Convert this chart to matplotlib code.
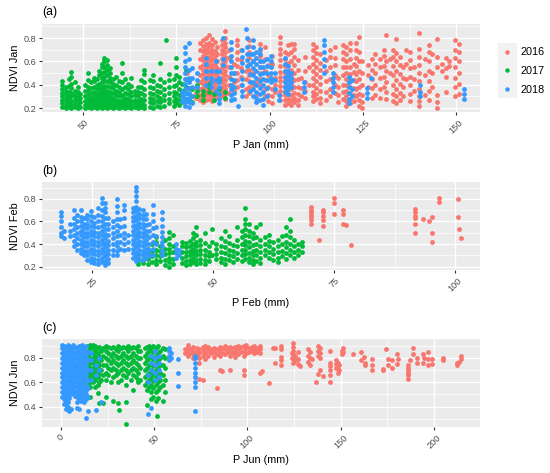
import matplotlib
matplotlib.use('Agg')
import matplotlib.pyplot as plt
from matplotlib.lines import Line2D
from matplotlib.patches import Rectangle

plt.rcParams['font.family'] = ['Liberation Sans', 'DejaVu Sans']

years = ['2016', '2017', '2018']
colors = ['#F8766D', '#00BA38', '#3399FF']

# ---------------- Panel (a): P Jan vs NDVI Jan ----------------
jan16_x = [77.8, 80.3, 81.3, 82.0, 82.8, 83.6, 84.4, 85.2, 86.0, 87.3, 88.1, 89.0, 90.4, 91.3, 92.2,
           93.5, 94.5, 95.4, 96.6, 97.5, 98.6, 99.6, 100.6, 101.5, 102.7, 104.0, 104.8, 105.7, 106.6,
           107.5, 108.4, 109.5, 110.5, 111.6, 112.4, 113.4, 115.0, 116.2, 117.4, 118.2, 119.7, 120.5,
           121.4, 122.5, 123.2, 124.0, 124.8, 126.2, 127.5, 128.3, 129.5, 130.5, 131.2, 132.3, 133.0,
           133.9, 134.8, 135.7, 136.5, 137.5, 138.5, 140.0, 141.5, 142.6, 143.5, 144.8, 146.2, 147.3,
           148.1, 149.7, 150.8]
jan16_y = [[0.37, 0.50], [0.29, 0.33, 0.38],
           [0.27, 0.31, 0.36, 0.42, 0.48, 0.55, 0.62, 0.70, 0.76],
           [0.25, 0.29, 0.33, 0.37, 0.41, 0.45, 0.49, 0.53, 0.57, 0.61, 0.65, 0.69, 0.73, 0.78],
           [0.27, 0.31, 0.35, 0.39, 0.43, 0.47, 0.51, 0.55, 0.59, 0.63, 0.67, 0.71, 0.75, 0.80],
           [0.28, 0.32, 0.36, 0.40, 0.44, 0.48, 0.52, 0.56, 0.60, 0.64, 0.68, 0.72, 0.76, 0.83],
           [0.26, 0.30, 0.34, 0.38, 0.42, 0.46, 0.50, 0.54, 0.58, 0.62, 0.66, 0.70, 0.74, 0.79],
           [0.29, 0.33, 0.37, 0.41, 0.45, 0.49, 0.53, 0.57, 0.61, 0.65, 0.69, 0.77],
           [0.31, 0.36, 0.42, 0.48, 0.54, 0.60, 0.66, 0.72],
           [0.30, 0.34, 0.38, 0.42, 0.46, 0.50, 0.54, 0.58, 0.62, 0.66, 0.70, 0.74, 0.78],
           [0.28, 0.32, 0.36, 0.40, 0.44, 0.48, 0.52, 0.56, 0.60, 0.64, 0.68, 0.72, 0.76, 0.80, 0.86],
           [0.33, 0.40, 0.47, 0.55, 0.63, 0.70], [0.35, 0.42, 0.50, 0.58],
           [0.38, 0.44, 0.50, 0.56, 0.62, 0.68, 0.74, 0.78], [0.40, 0.47, 0.54, 0.61, 0.70],
           [0.30, 0.36, 0.45, 0.52],
           [0.33, 0.38, 0.43, 0.48, 0.53, 0.58, 0.63, 0.68, 0.73, 0.78], [0.40, 0.50, 0.60],
           [0.26, 0.32, 0.43], [0.40, 0.45, 0.50, 0.55, 0.60, 0.65, 0.70, 0.75],
           [0.30, 0.36, 0.44, 0.52, 0.62, 0.72], [0.26, 0.31, 0.38, 0.48, 0.57],
           [0.24, 0.30, 0.36, 0.45, 0.58, 0.65], [0.34, 0.40, 0.46],
           [0.27, 0.31, 0.35, 0.39, 0.43, 0.47, 0.51, 0.56, 0.61, 0.66, 0.71, 0.76, 0.81],
           [0.23, 0.27, 0.31, 0.35, 0.39, 0.44, 0.50, 0.56, 0.62, 0.68],
           [0.24, 0.28, 0.32, 0.36, 0.40, 0.45, 0.52, 0.59, 0.66, 0.74],
           [0.23, 0.27, 0.31, 0.36, 0.41, 0.47, 0.53, 0.60, 0.68, 0.75],
           [0.25, 0.29, 0.33, 0.38, 0.44, 0.50, 0.57, 0.64, 0.71, 0.75],
           [0.23, 0.27, 0.32, 0.38, 0.45, 0.53, 0.61], [0.30, 0.37, 0.46],
           [0.29, 0.35, 0.42, 0.52, 0.64], [0.40, 0.55],
           [0.26, 0.30, 0.34, 0.40, 0.46, 0.52, 0.58, 0.64, 0.70, 0.75],
           [0.28, 0.32, 0.37, 0.43, 0.49, 0.55, 0.61, 0.67, 0.72],
           [0.24, 0.29, 0.35, 0.41, 0.47, 0.53, 0.59, 0.66],
           [0.27, 0.34, 0.43, 0.52, 0.61], [0.30, 0.36, 0.45, 0.55, 0.64, 0.70],
           [0.33, 0.40, 0.48, 0.57, 0.63, 0.72], [0.25, 0.31, 0.38, 0.46],
           [0.28, 0.34, 0.40, 0.48, 0.55, 0.62, 0.68, 0.74],
           [0.22, 0.26, 0.30, 0.35, 0.40, 0.45, 0.50, 0.55, 0.60, 0.66, 0.72],
           [0.24, 0.28, 0.33, 0.38, 0.43, 0.49, 0.55, 0.62, 0.70, 0.76],
           [0.26, 0.31, 0.37, 0.44, 0.51, 0.58],
           [0.30, 0.36, 0.43, 0.49, 0.56, 0.63, 0.70, 0.76],
           [0.22, 0.27, 0.32, 0.38, 0.45, 0.52, 0.60, 0.68, 0.81],
           [0.20, 0.25, 0.31, 0.40, 0.50, 0.60], [0.38, 0.48, 0.57],
           [0.29, 0.37, 0.45, 0.53, 0.62], [0.31, 0.40, 0.50, 0.58, 0.66],
           [0.29, 0.36, 0.46, 0.55, 0.62], [0.38, 0.47, 0.56, 0.65, 0.70],
           [0.28, 0.34, 0.42, 0.52, 0.60, 0.83], [0.50, 0.62],
           [0.26, 0.32, 0.40, 0.48, 0.56, 0.64, 0.70],
           [0.24, 0.30, 0.36, 0.44, 0.52, 0.60, 0.67, 0.79],
           [0.27, 0.33, 0.41, 0.49, 0.57, 0.64], [0.30, 0.38, 0.46, 0.55],
           [0.45, 0.58, 0.70], [0.26, 0.32, 0.40, 0.47, 0.54, 0.61, 0.68], [0.35, 0.45, 0.55],
           [0.22, 0.26, 0.30, 0.36, 0.43, 0.50, 0.57, 0.64, 0.71, 0.84], [0.31, 0.48, 0.62],
           [0.27, 0.35, 0.43, 0.52, 0.60, 0.68, 0.74], [0.38, 0.50, 0.66],
           [0.20, 0.25, 0.31, 0.55, 0.64, 0.79], [0.52, 0.58], [0.34, 0.47, 0.54, 0.63],
           [0.56, 0.60], [0.30, 0.38, 0.46, 0.55, 0.63, 0.70, 0.78],
           [0.32, 0.41, 0.50, 0.60, 0.68, 0.75]]

jan17_x = [44.3, 45.3, 46.2, 46.9, 47.8, 48.6, 49.3, 50.5, 51.2, 52.0, 52.8, 53.6, 54.3, 55.0, 55.7,
           56.4, 57.2, 58.0, 58.8, 59.6, 60.5, 61.3, 62.1, 62.9, 63.8, 64.6, 65.5, 66.4, 67.8, 68.7,
           69.9, 70.7, 71.6, 72.3, 73.0, 74.3, 75.0, 75.8, 76.6, 77.5, 78.3, 79.2, 80.5, 82.0, 83.8,
           85.0, 86.4, 88.0]
jan17_y = [[0.21, 0.24, 0.27, 0.30, 0.33, 0.36, 0.40, 0.43],
           [0.20, 0.23, 0.26, 0.29, 0.32, 0.35, 0.38],
           [0.21, 0.24, 0.27, 0.30, 0.34, 0.39, 0.45],
           [0.20, 0.23, 0.26, 0.30, 0.33, 0.37, 0.41, 0.47, 0.51],
           [0.21, 0.24, 0.28, 0.31, 0.35, 0.42],
           [0.20, 0.23, 0.27, 0.30, 0.34, 0.38],
           [0.21, 0.25, 0.29, 0.32],
           [0.20, 0.23, 0.26, 0.30, 0.35, 0.40],
           [0.21, 0.24, 0.28, 0.31, 0.35, 0.38, 0.44, 0.50],
           [0.20, 0.23, 0.26, 0.29, 0.33, 0.37, 0.42],
           [0.21, 0.24, 0.27, 0.30, 0.34, 0.38, 0.43, 0.46],
           [0.20, 0.23, 0.26, 0.29, 0.32, 0.36, 0.40, 0.45],
           [0.21, 0.24, 0.27, 0.30, 0.33, 0.37, 0.41, 0.48, 0.52],
           [0.20, 0.23, 0.26, 0.29, 0.32, 0.35, 0.38, 0.42, 0.46, 0.50, 0.55, 0.58],
           [0.21, 0.24, 0.27, 0.30, 0.33, 0.36, 0.39, 0.43, 0.47, 0.51, 0.55, 0.60, 0.63],
           [0.20, 0.23, 0.26, 0.29, 0.32, 0.35, 0.39, 0.43, 0.48, 0.53, 0.57, 0.61],
           [0.21, 0.24, 0.27, 0.30, 0.34, 0.38, 0.42, 0.46, 0.50, 0.54],
           [0.20, 0.23, 0.26, 0.29, 0.33, 0.37, 0.41, 0.45],
           [0.21, 0.24, 0.27, 0.31, 0.35, 0.40, 0.47],
           [0.20, 0.23, 0.26, 0.30, 0.34, 0.38, 0.43],
           [0.21, 0.24, 0.27, 0.31, 0.36, 0.42, 0.50, 0.59],
           [0.20, 0.23, 0.26, 0.29, 0.33, 0.38, 0.45],
           [0.21, 0.24, 0.28, 0.32, 0.36, 0.41],
           [0.20, 0.23, 0.26, 0.30, 0.34, 0.39, 0.46],
           [0.21, 0.24, 0.27, 0.31, 0.35],
           [0.20, 0.23, 0.26, 0.30, 0.34, 0.38],
           [0.21, 0.24, 0.28, 0.33, 0.38, 0.44],
           [0.20, 0.23, 0.27, 0.31, 0.36, 0.42, 0.49, 0.53],
           [0.21, 0.25, 0.29, 0.33, 0.38, 0.44],
           [0.20, 0.24, 0.28, 0.32, 0.37, 0.43, 0.48],
           [0.22, 0.26, 0.30, 0.35, 0.40],
           [0.21, 0.25, 0.29, 0.34, 0.39, 0.45, 0.59],
           [0.22, 0.27, 0.31, 0.36, 0.42],
           [0.78],
           [0.24, 0.28, 0.33, 0.38, 0.44, 0.49],
           [0.22, 0.26, 0.30, 0.34, 0.39, 0.45],
           [0.24, 0.28, 0.33, 0.40, 0.48, 0.55, 0.63],
           [0.23, 0.27, 0.31, 0.36, 0.42, 0.47],
           [0.25, 0.30, 0.35, 0.41],
           [0.28, 0.33, 0.38, 0.45, 0.53],
           [0.27, 0.32, 0.37, 0.44],
           [0.25, 0.30, 0.36],
           [0.30, 0.35, 0.40], [0.27, 0.31, 0.35], [0.34, 0.38, 0.41], [0.27, 0.32],
           [0.36, 0.44], [0.29, 0.34]]

jan18_x = [76.5, 77.4, 78.3, 79.3, 80.6, 82.8, 84.3, 85.5, 86.5, 87.5, 89.5, 90.4, 91.6, 92.5, 93.5,
           93.9, 94.7, 95.6, 96.4, 97.3, 98.2, 99.3, 100.2, 101.5, 102.5, 104.2, 105.0, 105.8, 109.2,
           114.4, 117.0, 121.3, 121.9, 126.0, 127.1, 140.2, 152.0]
jan18_y = [[0.26, 0.30, 0.34],
           [0.22, 0.25, 0.28, 0.32, 0.36, 0.41, 0.45, 0.50, 0.55, 0.60, 0.67, 0.72],
           [0.21, 0.25, 0.29, 0.33, 0.37, 0.42, 0.46, 0.53, 0.62, 0.76],
           [0.24, 0.30, 0.38, 0.46, 0.54],
           [0.38, 0.44, 0.50],
           [0.40, 0.46, 0.52, 0.58, 0.63],
           [0.38, 0.42, 0.46, 0.52],
           [0.35, 0.44, 0.52, 0.60],
           [0.24, 0.28, 0.32, 0.38, 0.42, 0.46, 0.52],
           [0.57, 0.62, 0.80],
           [0.27, 0.31, 0.36, 0.40, 0.45, 0.50, 0.55, 0.60, 0.65, 0.71, 0.77],
           [0.28, 0.33, 0.38, 0.44, 0.50],
           [0.22],
           [0.30, 0.35, 0.40, 0.45, 0.52, 0.59, 0.64, 0.70],
           [0.88],
           [0.56, 0.61, 0.66, 0.72, 0.80],
           [0.35, 0.42, 0.49, 0.58, 0.66],
           [0.30, 0.36, 0.42, 0.48, 0.54, 0.60, 0.66, 0.72, 0.78],
           [0.25, 0.29, 0.34, 0.40, 0.46, 0.52, 0.58, 0.63, 0.68],
           [0.27, 0.32, 0.37, 0.43, 0.49, 0.55, 0.60, 0.66, 0.71],
           [0.23, 0.28, 0.34, 0.40, 0.45, 0.50, 0.55, 0.60],
           [0.30, 0.37, 0.44, 0.50, 0.56, 0.62],
           [0.42, 0.46, 0.50, 0.55, 0.60, 0.65],
           [0.36, 0.44, 0.50],
           [0.27, 0.31],
           [0.34, 0.38, 0.42, 0.47, 0.52, 0.58, 0.63],
           [0.32, 0.36, 0.40, 0.44, 0.48, 0.52, 0.56],
           [0.38, 0.42, 0.46, 0.50],
           [0.34, 0.38, 0.42],
           [0.50, 0.56, 0.62, 0.68, 0.74, 0.78],
           [0.34, 0.38, 0.42, 0.46, 0.50],
           [0.24, 0.28, 0.33, 0.38, 0.42, 0.47],
           [0.30, 0.36, 0.44],
           [0.29, 0.33, 0.37],
           [0.46],
           [0.30, 0.34, 0.40],
           [0.28, 0.32, 0.36]]

# ---------------- Panel (b): P Feb vs NDVI Feb ----------------
feb16_x = [70.2, 71.9, 72.6, 75.0, 76.8, 77.5, 78.4, 91.6, 93.4, 94.6, 95.1, 96.6, 100.5, 100.7, 101.2]
feb16_y = [[0.58, 0.61, 0.64, 0.66, 0.68, 0.70, 0.73], [0.44], [0.56, 0.61, 0.65, 0.68, 0.70],
           [0.67, 0.76, 0.81], [0.58, 0.67, 0.70], [0.57], [0.39],
           [0.50, 0.58, 0.63, 0.65, 0.68, 0.71], [0.62], [0.60], [0.42, 0.50, 0.64],
           [0.77, 0.81], [0.64, 0.80], [0.53], [0.45]]

feb17_x = [34.5, 35.4, 36.4, 37.3, 38.2, 39.0, 40.0, 40.9, 41.6, 43.5, 44.4, 45.1, 45.8, 46.5, 47.3,
           48.2, 49.2, 49.8, 50.6, 51.5, 52.4, 53.2, 54.0, 54.9, 55.9, 56.6, 57.3, 58.1, 58.9, 59.7,
           60.6, 61.5, 62.4, 63.3, 64.2, 65.0, 65.8, 66.6, 67.5, 68.3]
feb17_y = [[0.22, 0.25, 0.28], [0.23, 0.26, 0.30], [0.22, 0.27, 0.32, 0.36],
           [0.24, 0.29, 0.34, 0.40], [0.22, 0.26, 0.30, 0.35, 0.42, 0.46],
           [0.25, 0.29, 0.34, 0.38], [0.21, 0.26, 0.31, 0.36, 0.44],
           [0.20, 0.24, 0.28, 0.32, 0.36, 0.40, 0.45, 0.51], [0.22, 0.27, 0.33, 0.38, 0.48],
           [0.23, 0.28, 0.33, 0.38, 0.42], [0.21, 0.25, 0.29, 0.33, 0.37, 0.41],
           [0.22, 0.26, 0.30, 0.34, 0.38, 0.43], [0.24, 0.28, 0.32, 0.36, 0.40, 0.45, 0.50],
           [0.22, 0.26, 0.30, 0.34, 0.38, 0.42, 0.48, 0.55], [0.23, 0.27, 0.31, 0.35, 0.39, 0.44],
           [0.22, 0.26, 0.30, 0.35, 0.41, 0.50], [0.25, 0.29, 0.33, 0.38], [0.30, 0.42, 0.53],
           [0.27, 0.31, 0.36, 0.40], [0.24, 0.28, 0.33, 0.38, 0.45],
           [0.22, 0.27, 0.32, 0.37, 0.43, 0.52], [0.26, 0.30, 0.35, 0.41, 0.47],
           [0.24, 0.29, 0.34, 0.39], [0.27, 0.32, 0.38, 0.44, 0.55],
           [0.25, 0.30, 0.35, 0.40, 0.46, 0.52],
           [0.27, 0.31, 0.35, 0.39, 0.43, 0.48, 0.53, 0.58, 0.62, 0.72],
           [0.24, 0.28, 0.32, 0.37, 0.42, 0.47, 0.52, 0.58], [0.22, 0.26, 0.30, 0.34, 0.39, 0.45, 0.50],
           [0.25, 0.30, 0.35, 0.40, 0.46, 0.55], [0.23, 0.28, 0.33, 0.38, 0.44, 0.58],
           [0.30, 0.35, 0.40, 0.46], [0.28, 0.33, 0.38, 0.43, 0.48], [0.26, 0.31, 0.36, 0.42],
           [0.24, 0.28, 0.33, 0.38, 0.44], [0.29, 0.34, 0.40, 0.47],
           [0.27, 0.32, 0.37, 0.42, 0.48, 0.55], [0.30, 0.35, 0.40, 0.46, 0.52, 0.62],
           [0.28, 0.33, 0.38, 0.44], [0.30, 0.35, 0.40], [0.33, 0.38, 0.42]]

feb18_x = [18.6, 19.2, 20.3, 21.3, 21.9, 22.6, 23.3, 24.0, 24.7, 25.4, 26.1, 26.9, 27.6, 28.3, 29.2,
           30.1, 30.8, 31.5, 32.4, 33.3, 34.0, 34.7, 35.4, 36.1, 36.8, 37.6, 38.2, 39.3, 42.3, 43.0]
feb18_y = [[0.47, 0.50, 0.55, 0.60, 0.65, 0.68], [0.45, 0.52], [0.47, 0.52, 0.58],
           [0.38, 0.43, 0.48, 0.53, 0.58, 0.63, 0.70],
           [0.35, 0.40, 0.45, 0.50, 0.55, 0.60, 0.66],
           [0.32, 0.36, 0.40, 0.44, 0.48, 0.52, 0.56, 0.60, 0.64, 0.70],
           [0.30, 0.34, 0.38, 0.42, 0.46, 0.50, 0.54, 0.58, 0.63],
           [0.26, 0.30, 0.34, 0.38, 0.42, 0.46, 0.50, 0.54, 0.58, 0.62, 0.66],
           [0.24, 0.28, 0.32, 0.36, 0.40, 0.44, 0.48, 0.52, 0.56, 0.60, 0.65, 0.69],
           [0.23, 0.27, 0.31, 0.35, 0.39, 0.43, 0.47, 0.51, 0.55, 0.59, 0.64],
           [0.22, 0.26, 0.30, 0.34, 0.38, 0.42, 0.46, 0.50, 0.55, 0.60, 0.66, 0.72],
           [0.24, 0.28, 0.32, 0.36, 0.40, 0.44, 0.48, 0.52, 0.56, 0.60, 0.65, 0.70, 0.76, 0.81],
           [0.21, 0.25, 0.29, 0.33, 0.37, 0.41, 0.45, 0.49, 0.53, 0.58, 0.63, 0.68, 0.72, 0.76],
           [0.23, 0.27, 0.31, 0.35, 0.39, 0.43, 0.48, 0.53, 0.58, 0.63],
           [0.30, 0.35, 0.40, 0.45, 0.50, 0.55, 0.60],
           [0.30, 0.34, 0.38, 0.42, 0.47, 0.52, 0.57, 0.62, 0.68, 0.74, 0.80],
           [0.36, 0.42, 0.48, 0.55, 0.62],
           [0.35, 0.40, 0.45, 0.50, 0.56, 0.63, 0.70, 0.75],
           [0.36, 0.42, 0.48],
           [0.28, 0.32, 0.36, 0.40, 0.44, 0.48, 0.52, 0.56, 0.60, 0.64, 0.68, 0.72],
           [0.25, 0.29, 0.33, 0.37, 0.41, 0.45, 0.49, 0.53, 0.57, 0.61, 0.65, 0.69, 0.73, 0.78,
            0.83, 0.87, 0.91],
           [0.27, 0.31, 0.35, 0.39, 0.43, 0.47, 0.51, 0.55, 0.59, 0.63, 0.67, 0.71],
           [0.26, 0.30, 0.34, 0.38, 0.42, 0.46, 0.50, 0.54, 0.58, 0.62, 0.66, 0.70],
           [0.28, 0.32, 0.36, 0.40, 0.44, 0.48, 0.52, 0.57, 0.62, 0.67],
           [0.30, 0.35, 0.40, 0.46, 0.52, 0.58],
           [0.30, 0.36, 0.42, 0.48, 0.54, 0.60, 0.67, 0.75],
           [0.40, 0.47, 0.55],
           [0.30, 0.34, 0.38, 0.42, 0.46, 0.51, 0.56, 0.62, 0.68],
           [0.28, 0.32, 0.36, 0.40], [0.30, 0.35]]

# ---------------- Panel (c): P Jun vs NDVI Jun ----------------
jun16_x = [66.5, 68.0, 69.5, 71.0, 72.8, 74.2, 76.0, 77.5, 79.0, 80.5, 82.0, 83.5, 85.3, 86.5, 88.0,
           89.5, 90.7, 92.2, 93.6, 95.0, 96.5, 98.0, 99.5, 101.0, 102.5, 103.8, 105.2, 106.8, 107.7,
           111.6, 113.5, 114.8, 118.0, 123.8, 124.6, 125.6, 127.0, 128.3, 132.7, 133.6, 134.5, 136.8,
           138.0, 139.2, 140.4, 144.3, 147.5, 148.5, 149.3, 150.6, 151.5, 156.7, 161.2, 162.3, 163.0,
           167.0, 172.6, 174.2, 175.5, 177.4, 180.2, 181.0, 186.3, 187.5, 188.6, 190.9, 194.1, 194.8,
           197.1, 198.9, 205.1, 212.6, 213.5, 214.4]
jun16_y = [[0.84, 0.87], [0.82, 0.85, 0.88, 0.91], [0.84, 0.87], [0.80, 0.83, 0.86, 0.89],
           [0.82, 0.85, 0.88], [0.63, 0.76, 0.80, 0.84, 0.87], [0.62, 0.82, 0.86, 0.89],
           [0.79, 0.84, 0.88, 0.90], [0.82, 0.86, 0.89], [0.84, 0.87], [0.81, 0.85, 0.88],
           [0.55, 0.83, 0.87], [0.70, 0.82, 0.86, 0.89], [0.69, 0.84, 0.88], [0.83, 0.87, 0.90],
           [0.85, 0.88], [0.70, 0.82, 0.86, 0.89], [0.84, 0.88], [0.81, 0.85, 0.89],
           [0.83, 0.87, 0.90], [0.85, 0.89], [0.66, 0.70, 0.82, 0.86, 0.90], [0.84, 0.88, 0.91],
           [0.85, 0.88], [0.86, 0.89], [0.84, 0.87, 0.90], [0.85, 0.88], [0.68, 0.84, 0.87, 0.90],
           [0.69], [0.59], [0.88], [0.76, 0.88], [0.74, 0.78, 0.81, 0.87, 0.90], [0.80, 0.84],
           [0.76, 0.80, 0.83, 0.86, 0.89, 0.92], [0.78, 0.82], [0.75, 0.79, 0.85], [0.73],
           [0.77, 0.82, 0.87], [0.74, 0.80, 0.85], [0.79], [0.60], [0.67, 0.82, 0.86, 0.90],
           [0.70, 0.80, 0.84, 0.88], [0.65], [0.60, 0.66, 0.70, 0.73, 0.76, 0.86],
           [0.72, 0.75, 0.78], [0.68, 0.71, 0.76], [0.70, 0.74], [0.83, 0.86], [0.85, 0.88],
           [0.83], [0.78, 0.85], [0.81], [0.74, 0.76], [0.70, 0.74, 0.79], [0.70, 0.71], [0.87],
           [0.79, 0.74], [0.72, 0.78], [0.75, 0.83], [0.79], [0.63, 0.66, 0.68, 0.70, 0.72, 0.74],
           [0.78], [0.83, 0.88], [0.76, 0.80], [0.76, 0.83], [0.80], [0.74, 0.79, 0.85],
           [0.75, 0.79], [0.78, 0.80], [0.74, 0.76], [0.77], [0.79, 0.82]]

jun17_x = [14.5, 15.8, 17.1, 18.4, 19.7, 20.5, 21.5, 22.7, 24.0, 25.4, 26.7, 28.1, 29.4, 30.8, 31.1,
           32.2, 33.5, 34.9, 36.2, 37.6, 38.8, 40.1, 41.2, 42.4, 44.8, 46.0, 47.2, 48.4, 49.6, 50.8,
           51.3, 52.0, 53.2, 54.5, 55.8]
jun17_y = [[0.58, 0.62, 0.66, 0.70, 0.74, 0.78, 0.82, 0.86, 0.90],
           [0.48, 0.56, 0.60, 0.64, 0.68, 0.72, 0.76, 0.80, 0.84, 0.88, 0.91],
           [0.60, 0.64, 0.68, 0.72, 0.76, 0.80, 0.84, 0.88, 0.91],
           [0.56, 0.62, 0.66, 0.70, 0.74, 0.78, 0.82, 0.86, 0.90],
           [0.51, 0.58, 0.64, 0.68, 0.72, 0.76, 0.80, 0.84, 0.88],
           [0.43, 0.60, 0.67, 0.74, 0.82, 0.89],
           [0.62, 0.70, 0.78, 0.86],
           [0.43, 0.66, 0.74, 0.82, 0.88],
           [0.48, 0.62, 0.68, 0.74, 0.80, 0.86, 0.90],
           [0.66, 0.72, 0.78, 0.84, 0.89],
           [0.60, 0.70, 0.76, 0.82, 0.88],
           [0.45, 0.64, 0.72, 0.78, 0.84, 0.89],
           [0.66, 0.70, 0.76, 0.82, 0.87],
           [0.43, 0.60, 0.68, 0.74, 0.80, 0.86, 0.90],
           [0.37],
           [0.62, 0.70, 0.76, 0.82, 0.88],
           [0.66, 0.72, 0.78, 0.84, 0.89],
           [0.26, 0.44, 0.58, 0.64, 0.70, 0.76, 0.82, 0.88],
           [0.68, 0.74, 0.80, 0.86, 0.90],
           [0.62, 0.70, 0.76, 0.82, 0.88],
           [0.54, 0.66, 0.72, 0.78, 0.84, 0.89],
           [0.64, 0.70, 0.76, 0.82, 0.88],
           [0.60, 0.62, 0.68, 0.74, 0.80, 0.86, 0.90],
           [0.62, 0.72, 0.80, 0.86],
           [0.58, 0.64, 0.70, 0.76, 0.82, 0.88],
           [0.41, 0.54, 0.60, 0.66, 0.72, 0.78, 0.84, 0.89],
           [0.56, 0.62, 0.68, 0.74, 0.80, 0.86, 0.90],
           [0.46, 0.52, 0.58, 0.64, 0.70, 0.76, 0.82, 0.88],
           [0.48, 0.55, 0.61, 0.67, 0.73, 0.79, 0.85, 0.90],
           [0.45, 0.52, 0.58, 0.64, 0.70, 0.76, 0.82, 0.88],
           [0.32],
           [0.47, 0.54, 0.60, 0.66, 0.72, 0.78, 0.84, 0.90],
           [0.56, 0.62, 0.68, 0.74, 0.80, 0.86],
           [0.45, 0.58, 0.66, 0.74, 0.82, 0.88],
           [0.52, 0.62, 0.72, 0.80, 0.87]]

jun18_x = [0.5, 1.5, 2.5, 3.5, 4.5, 5.5, 6.5, 7.5, 8.5, 9.5, 10.5, 11.5, 12.5, 13.4, 14.5, 16.0,
           18.6, 20.5, 21.3, 46.9, 48.5, 50.5, 52.5, 57.8, 59.0, 63.0, 71.9]
jun18_y = [[0.48, 0.52, 0.56, 0.60, 0.64, 0.68, 0.72, 0.76, 0.80, 0.84, 0.88, 0.91],
           [0.42, 0.46, 0.50, 0.54, 0.58, 0.62, 0.66, 0.70, 0.74, 0.78, 0.82, 0.86, 0.90],
           [0.38, 0.41, 0.45, 0.49, 0.53, 0.57, 0.61, 0.65, 0.69, 0.73, 0.77, 0.81, 0.85, 0.89],
           [0.40, 0.44, 0.48, 0.52, 0.56, 0.60, 0.64, 0.68, 0.72, 0.76, 0.80, 0.84, 0.88, 0.91],
           [0.36, 0.47, 0.51, 0.55, 0.59, 0.63, 0.67, 0.71, 0.75, 0.79, 0.83, 0.87, 0.90],
           [0.38, 0.50, 0.54, 0.58, 0.62, 0.66, 0.70, 0.74, 0.78, 0.82, 0.86, 0.89],
           [0.52, 0.56, 0.60, 0.64, 0.68, 0.72, 0.76, 0.80, 0.84, 0.88, 0.91],
           [0.49, 0.53, 0.57, 0.61, 0.65, 0.69, 0.73, 0.77, 0.81, 0.85, 0.89],
           [0.39, 0.44, 0.48, 0.52, 0.56, 0.60, 0.64, 0.68, 0.72, 0.76, 0.80, 0.84, 0.88],
           [0.38, 0.46, 0.50, 0.54, 0.58, 0.62, 0.66, 0.70, 0.74, 0.78, 0.82, 0.86, 0.90],
           [0.45, 0.49, 0.53, 0.57, 0.61, 0.65, 0.69, 0.73, 0.77, 0.81, 0.85, 0.89],
           [0.47, 0.51, 0.55, 0.59, 0.63, 0.67, 0.71, 0.75, 0.79, 0.83, 0.87, 0.91],
           [0.44, 0.48, 0.52, 0.56, 0.60, 0.64, 0.68, 0.72, 0.76, 0.80, 0.84, 0.88],
           [0.31, 0.46, 0.50, 0.54, 0.58, 0.62, 0.66, 0.70, 0.74, 0.78, 0.82, 0.86, 0.90],
           [0.36, 0.48, 0.55, 0.62, 0.70, 0.78, 0.85],
           [0.62, 0.70, 0.78, 0.84],
           [0.37, 0.66, 0.74],
           [0.70, 0.80],
           [0.44],
           [0.34, 0.60, 0.66],
           [0.39, 0.70, 0.76, 0.82],
           [0.62, 0.68, 0.74, 0.80, 0.86],
           [0.64, 0.70, 0.76, 0.82],
           [0.78, 0.82, 0.86, 0.88],
           [0.80, 0.84],
           [0.57, 0.68, 0.79],
           [0.36, 0.56, 0.60, 0.64, 0.68, 0.72, 0.76, 0.80, 0.82]]

# tick values / labels
jan_xticks = [50, 75, 100, 125, 150]
feb_xticks = [25, 50, 75, 100]
jun_xticks = [0, 50, 100, 150, 200]
jan_yticks = [0.2, 0.4, 0.6, 0.8]
feb_yticks = [0.2, 0.4, 0.6, 0.8]
jun_yticks = [0.4, 0.6, 0.8]


def expand(xs, ys):
    px, py = [], []
    for x, col in zip(xs, ys):
        for y in col:
            px.append(x)
            py.append(y)
    return px, py


W, H = 550, 473
fig = plt.figure(figsize=(W / 100, H / 100), dpi=100)

panels = [
    dict(top=24, bottom=112, xlim=(39.0, 156.3), ylim=(0.166, 0.92),
         xt=jan_xticks, xm=[62.5, 87.5, 112.5, 137.5], yt=jan_yticks, ym=[0.3, 0.5, 0.7, 0.9],
         xlabel='P Jan (mm)', ylabel='NDVI Jan', tag='(a)',
         series=[(jan16_x, jan16_y), (jan17_x, jan17_y), (jan18_x, jan18_y)]),
    dict(top=182, bottom=270, xlim=(14.6, 105.1), ylim=(0.17, 0.95),
         xt=feb_xticks, xm=[37.5, 62.5, 87.5], yt=feb_yticks, ym=[0.3, 0.5, 0.7, 0.9],
         xlabel='P Feb (mm)', ylabel='NDVI Feb', tag='(b)',
         series=[(feb16_x, feb16_y), (feb17_x, feb17_y), (feb18_x, feb18_y)]),
    dict(top=339, bottom=427, xlim=(-10.2, 224.8), ylim=(0.232, 0.956),
         xt=jun_xticks, xm=[25, 75, 125, 175], yt=jun_yticks, ym=[0.3, 0.5, 0.7, 0.9],
         xlabel='P Jun (mm)', ylabel='NDVI Jun', tag='(c)',
         series=[(jun16_x, jun16_y), (jun17_x, jun17_y), (jun18_x, jun18_y)]),
]

left_px, right_px = 42, 480
for p in panels:
    ax = fig.add_axes([left_px / W, 1 - p['bottom'] / H,
                       (right_px - left_px) / W, (p['bottom'] - p['top']) / H])
    ax.set_facecolor('#EBEBEB')
    for s in ax.spines.values():
        s.set_visible(False)
    ax.set_axisbelow(True)
    for (xs, ys), c in zip(p['series'], colors):
        px, py = expand(xs, ys)
        ax.scatter(px, py, s=12, color=c, linewidths=0, zorder=3)
    ax.set_xlim(*p['xlim'])
    ax.set_ylim(*p['ylim'])
    ax.set_xticks(p['xt'])
    ax.set_xticklabels([str(v) for v in p['xt']], rotation=45, ha='center', va='top')
    ax.set_yticks(p['yt'])
    ax.set_yticklabels(['%.1f' % v for v in p['yt']])
    ax.set_xticks(p['xm'], minor=True)
    ax.set_yticks(p['ym'], minor=True)
    ax.grid(which='major', color='white', linewidth=1.0)
    ax.grid(which='minor', color='white', linewidth=0.5)
    ax.tick_params(which='major', length=2.2, width=0.8, color='#333333',
                   labelcolor='#4D4D4D', labelsize=6.6, pad=2)
    ax.tick_params(which='minor', length=0)
    ax.set_xlabel(p['xlabel'], fontsize=7.8, color='black')
    ax.xaxis.label.set_va('center')
    hgt = p['bottom'] - p['top']
    ax.xaxis.set_label_coords(0.5, -33 / hgt)
    ax.set_ylabel(p['ylabel'], fontsize=7.8, color='black')
    ax.yaxis.label.set_va('center')
    ax.yaxis.set_label_coords(-27 / (right_px - left_px), 0.5)
    ax.text(0, 1 + 11.5 / hgt, p['tag'], transform=ax.transAxes, ha='left', va='center',
            fontsize=8.8, color='black')

# legend
fig.patches.append(Rectangle((498 / W, 1 - 98.5 / H), 19 / W, 55.5 / H, transform=fig.transFigure,
                             facecolor='#F2F2F2', edgecolor='none', zorder=0))
handles = [Line2D([], [], marker='o', linestyle='', color=c, markersize=3.2, markeredgewidth=0)
           for c in colors]
fig.legend(handles, years, loc='center left', bbox_to_anchor=(498 / W, 1 - 71 / H),
           frameon=False, fontsize=7.8, handlelength=1.75, handletextpad=0.3,
           labelspacing=0.8, borderpad=0, borderaxespad=0)

fig.savefig('out.png', dpi=100)
